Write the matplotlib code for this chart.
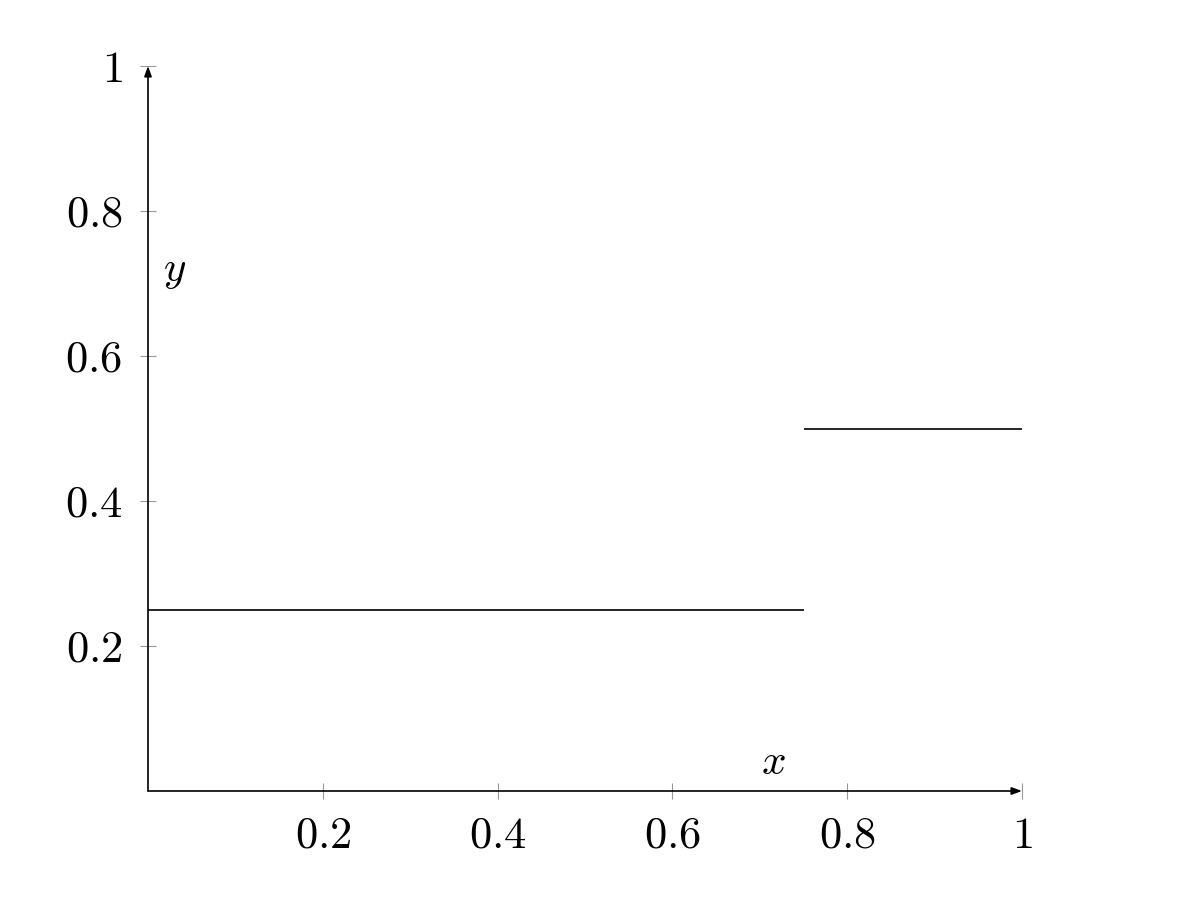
import matplotlib
matplotlib.use("Agg")
import matplotlib.pyplot as plt
from matplotlib.ticker import FuncFormatter

plt.rcParams["mathtext.fontset"] = "cm"
plt.rcParams["font.family"] = "serif"
plt.rcParams["font.serif"] = ["cmr10", "DejaVu Serif"]

# step function pieces: (x_start, x_end, y)
seg_x_start = [0.0, 0.75]
seg_x_end = [0.75, 1.0]
seg_y = [0.25, 0.5]

x_ticks = [0.2, 0.4, 0.6, 0.8, 1.0]
y_ticks = [0.2, 0.4, 0.6, 0.8, 1.0]

fig = plt.figure(figsize=(11.9, 9.24), dpi=100)
ax = fig.add_axes([148 / 1190, 1 - 791 / 924, 874 / 1190, 725 / 924])

for x0, x1, y in zip(seg_x_start, seg_x_end, seg_y):
    ax.plot([x0, x1], [y, y], color="black", lw=1.2, solid_capstyle="butt")

ax.set_xlim(0, 1)
ax.set_ylim(0, 1)

for s in ax.spines.values():
    s.set_visible(False)

# axis lines with arrow heads
arrow = dict(arrowstyle="-|>,head_length=0.6,head_width=0.22", color="black", lw=1.2,
             shrinkA=0, shrinkB=0)
ax.annotate("", xy=(1, 0), xytext=(0, 0), xycoords="axes fraction", arrowprops=arrow)
ax.annotate("", xy=(0, 1), xytext=(0, 0), xycoords="axes fraction", arrowprops=arrow)

fmt = FuncFormatter(lambda v, p: f"${v:g}$")
ax.set_xticks(x_ticks)
ax.set_yticks(y_ticks)
ax.xaxis.set_major_formatter(fmt)
ax.yaxis.set_major_formatter(fmt)
ax.tick_params(direction="inout", length=11, width=0.8, color="#999999",
               labelsize=32)
ax.tick_params(axis="x", pad=13)
ax.tick_params(axis="y", pad=13)

ax.text(0.03, 0.715, "$y$", fontsize=31, ha="center", va="center")
ax.text(0.715, 0.038, "$x$", fontsize=31, ha="center", va="center")

fig.savefig("out.png", dpi=100)
